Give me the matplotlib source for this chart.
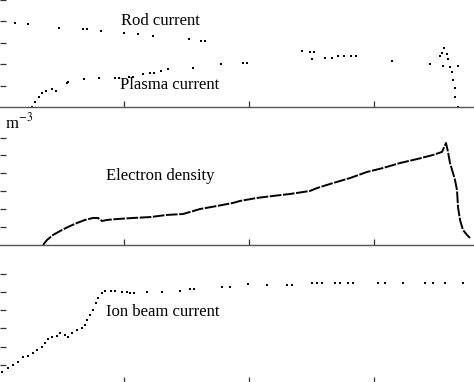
import matplotlib
matplotlib.use("Agg")
import matplotlib.pyplot as plt

plt.rcParams['font.family'] = ['Liberation Serif', 'DejaVu Serif']
plt.rcParams['mathtext.fontset'] = 'stix'

# ---- data (time axis arbitrary units, ticks at 100/200/300) ----
rod_t = [12.8, 23.2, 48.0, 67.2, 70.4, 81.6, 100.0, 111.2, 123.2, 152.0, 161.6, 164.8,
         250.4, 260.8, 266.4, 314.4, 344.8, 355.2, 367.2]
rod_i = [3.94, 3.86, 3.71, 3.63, 3.63, 3.54, 3.47, 3.41, 3.33, 3.18, 3.08, 3.08,
         2.23, 2.30, 2.30, 2.15, 2.00, 1.92, 1.92]

plasma_t = [26.4, 28.8, 32.0, 34.4, 37.6, 42.4, 45.6, 54.4, 55.2, 68.0, 80.0, 92.8, 96.0,
            104.0, 107.2, 115.2, 120.8, 124.0, 129.6, 135.2, 155.2, 177.6, 195.2, 198.4,
            242.4, 248.8, 252.0, 271.2, 276.0, 281.6, 285.6, 352.8, 354.4, 356.0, 358.4,
            359.2, 360.8, 362.4, 363.2, 364.8, 364.8, 367.2]
plasma_i = [0.0, 0.23, 0.47, 0.65, 0.75, 0.84, 0.75, 1.12, 1.17, 1.31, 1.36, 1.36, 1.36,
            1.40, 1.40, 1.54, 1.59, 1.59, 1.68, 1.78, 1.82, 2.01, 2.07, 2.07,
            2.62, 2.57, 2.57, 2.38, 2.38, 2.38, 2.38, 2.38, 2.52, 2.76, 2.48,
            2.24, 1.88, 1.65, 1.26, 0.89, 0.47, 0.0]

dens_t = [35.2, 38.4, 43.2, 50.4, 56.8, 62.4, 68.8, 75.2, 79.2, 82.4, 86.4, 94.4, 107.2,
          120.8, 134.4, 147.2, 160.8, 174.4, 187.2, 192.8, 206.4, 219.2, 232.8, 248.8,
          254.4, 267.2, 280.8, 294.4, 307.2, 320.8, 334.4, 347.2, 354.4, 357.6, 359.2,
          360.8, 363.2, 364.8, 366.4, 367.2, 368.8, 371.2, 374.4, 376.8]
dens_n = [0.0, 0.28, 0.56, 0.84, 1.06, 1.23, 1.40, 1.51, 1.51, 1.34, 1.40, 1.45, 1.51,
          1.56, 1.68, 1.73, 2.01, 2.18, 2.35, 2.46, 2.63, 2.74, 2.85, 3.02,
          3.18, 3.46, 3.74, 4.08, 4.30, 4.58, 4.80, 5.03, 5.20, 5.70, 5.20,
          4.58, 4.02, 3.63, 3.07, 2.12, 1.40, 0.84, 0.56, 0.39]

ion_t = [2.4, 7.2, 11.2, 15.2, 19.2, 23.2, 27.2, 30.4, 34.4, 36.8, 39.2, 42.4, 46.4, 48.8,
         52.8, 55.2, 58.4, 62.4, 66.4, 68.8, 70.4, 72.8, 75.2, 77.6, 79.2, 82.4, 84.8,
         89.6, 92.8, 98.4, 102.4, 104.8, 108.0, 118.4, 130.4, 144.8, 152.8, 156.0,
         178.4, 184.8, 199.2, 214.4, 230.4, 234.4, 250.4, 254.4, 258.4, 268.8, 272.8,
         279.2, 283.2, 303.2, 308.8, 323.2, 340.8, 347.2, 356.8, 371.2]
ion_i = [0.60, 0.82, 0.99, 1.15, 1.43, 1.48, 1.65, 1.81, 1.98, 2.20, 2.42, 2.53, 2.58, 2.75,
         2.64, 2.53, 2.75, 2.91, 3.02, 3.19, 3.46, 3.74, 4.01, 4.40, 4.67, 4.95, 5.05,
         5.05, 5.05, 5.00, 5.00, 4.95, 4.95, 5.00, 5.00, 5.05, 5.16, 5.16,
         5.27, 5.27, 5.44, 5.38, 5.38, 5.38, 5.49, 5.49, 5.49, 5.49, 5.49,
         5.49, 5.49, 5.49, 5.49, 5.49, 5.49, 5.49, 5.49, 5.49]

x_ticks = [100, 200, 300]

W, H = 474, 382
fig = plt.figure(figsize=(W / 100, H / 100), dpi=100)

def px_axes(top_px, bottom_px):
    return fig.add_axes([0, (H - bottom_px) / H, 1, (bottom_px - top_px) / H])

spine_col = '#555555'

def style(ax, ylim, yticks):
    ax.set_xlim(0.8, 380)
    ax.set_ylim(*ylim)
    for s in ('top', 'right', 'left'):
        ax.spines[s].set_visible(False)
    ax.spines['bottom'].set_color(spine_col)
    ax.spines['bottom'].set_linewidth(1.0)
    ax.set_xticks(x_ticks)
    ax.set_yticks(yticks)
    ax.tick_params(axis='both', direction='in', length=4.5, width=0.9, color='#333333',
                   labelbottom=False, labelleft=False)
    ax.patch.set_alpha(0)

ax1 = px_axes(0, 107)
style(ax1, (0, 5.0), [1, 2, 3, 4, 5])
ax1.plot(rod_t, rod_i, 's', ms=1.8, color='black', mew=0)
ax1.plot(plasma_t, plasma_i, 's', ms=1.8, color='black', mew=0)
ax1.text(128.8, 4.02, 'Rod current', ha='center', va='center', fontsize=12)
ax1.text(136.8, 1.05, 'Plasma current', ha='center', va='center', fontsize=12)

ax2 = px_axes(110, 245)
style(ax2, (0, 135 / 17.9), [1, 2, 3, 4, 5, 6])
ax2.plot(dens_t, dens_n, '-', lw=1.4, color='black', dashes=(6, 0.8))
ax2.text(128.8, 3.85, 'Electron density', ha='center', va='center', fontsize=12)
ax2.text(4.5, 6.5, 'm$^{-3}$', ha='left', va='baseline', fontsize=12)

ax3 = px_axes(250, 383)
style(ax3, (0, 133 / 18.2), [1, 2, 3, 4, 5, 6])
ax3.plot(ion_t, ion_i, 's', ms=1.8, color='black', mew=0)
ax3.text(131.2, 3.9, 'Ion beam current', ha='center', va='center', fontsize=12)

fig.savefig('out.png', dpi=100)
